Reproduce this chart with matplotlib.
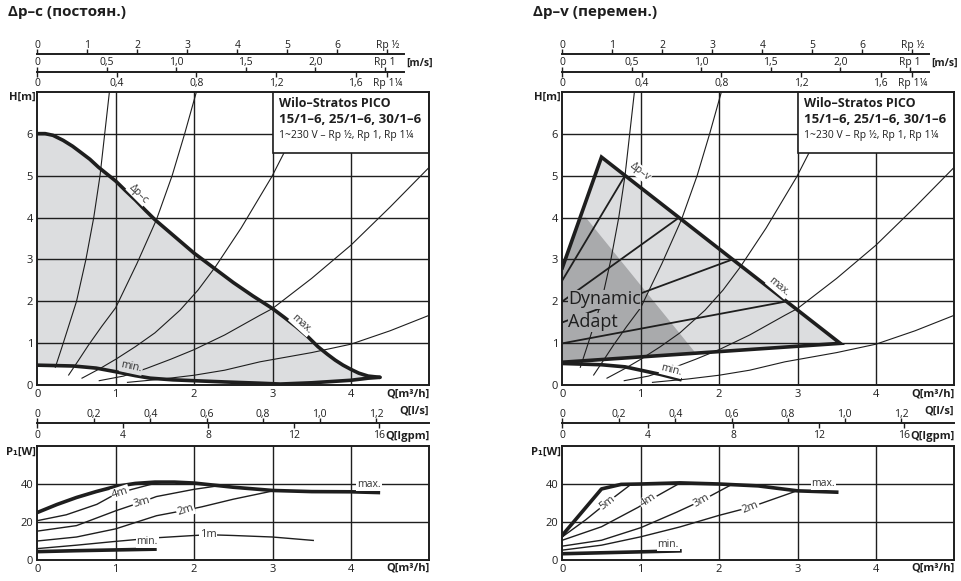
import matplotlib.pyplot as plt
from matplotlib.patches import Rectangle, Polygon

plt.rcParams['font.family'] = ['Open Sans', 'DejaVu Sans']

W, H = 961, 581
FILL = '#dcdddf'
DARK = '#a9aaac'
INK = '#1e1e1e'

# velocity scales [m/s] above the charts
rp12_ticks = [0, 1, 2, 3, 4, 5, 6, 7]
rp12_labels = ['0', '1', '2', '3', '4', '5', '6', 'Rp ½']
rp1_ticks = [0, 0.5, 1.0, 1.5, 2.0, 2.5]
rp1_labels = ['0', '0,5', '1,0', '1,5', '2,0', 'Rp 1']
rp114_ticks = [0, 0.4, 0.8, 1.2, 1.6, 1.76]
rp114_labels = ['0', '0,4', '0,8', '1,2', '1,6', 'Rp 1¼']

# flow scales below the head charts
ls_ticks = [0, 0.2, 0.4, 0.6, 0.8, 1.0, 1.2]
ls_labels = ['0', '0,2', '0,4', '0,6', '0,8', '1,0', '1,2']
igpm_ticks = [0, 4, 8, 12, 16]
igpm_labels = ['0', '4', '8', '12', '16']

# system curves Q[m3/h], H[m] (same in both charts)
sys1_q = [0.23, 0.33, 0.50, 0.62, 0.72, 0.80, 0.86, 0.92]
sys1_h = [0.43, 1.0, 2.0, 3.0, 4.0, 5.0, 6.0, 7.0]
sys2_q = [0.40, 0.52, 0.65, 0.82, 1.0, 1.27, 1.52, 1.72, 1.88, 2.03]
sys2_h = [0.245, 0.58, 0.95, 1.4, 1.85, 2.9, 3.95, 5.0, 6.0, 7.0]
sys3_q = [0.57, 0.8, 1.0, 1.25, 1.5, 1.82, 2.05, 2.27, 2.6, 2.99, 3.3, 3.5]
sys3_h = [0.17, 0.4, 0.62, 0.92, 1.25, 1.79, 2.27, 2.82, 3.75, 4.97, 6.1, 7.0]
sys4_q = [0.79, 1.1, 1.39, 1.7, 2.0, 2.39, 2.84, 3.0, 3.5, 4.0, 4.5, 5.0]
sys4_h = [0.11, 0.22, 0.40, 0.62, 0.85, 1.2, 1.67, 1.83, 2.55, 3.34, 4.25, 5.2]
sys5_q = [1.15, 1.6, 2.0, 2.39, 2.84, 3.5, 4.0, 4.5, 5.0]
sys5_h = [0.07, 0.15, 0.24, 0.36, 0.56, 0.78, 0.98, 1.3, 1.67]

# dp-c head curves
dpc_max_q = [0, 0.1, 0.2, 0.33, 0.45, 0.55, 0.67, 0.78, 0.9, 1.0, 1.12, 1.25, 1.38, 1.5, 1.75,
             2.0, 2.25, 2.5, 2.75, 3.0, 3.15, 3.3, 3.45, 3.58, 3.7, 3.8, 3.9, 4.0, 4.1, 4.22, 4.37]
dpc_max_h = [6.0, 6.0, 5.96, 5.84, 5.70, 5.56, 5.39, 5.2, 5.02, 4.87, 4.65, 4.42, 4.17, 3.95, 3.55,
             3.15, 2.8, 2.45, 2.13, 1.83, 1.62, 1.4, 1.16, 0.92, 0.74, 0.6, 0.48, 0.38, 0.29, 0.22, 0.19]
dpc_min_q = [0, 0.46, 0.75, 1.01, 1.25, 1.44, 1.73, 2.39, 2.84, 3.1, 3.5, 4.0, 4.22, 4.37]
dpc_min_h = [0.48, 0.46, 0.41, 0.32, 0.23, 0.17, 0.13, 0.08, 0.05, 0.03, 0.06, 0.12, 0.17, 0.19]

# dp-v field
dpv_outer_q = [0, 0, 0.5, 3.545]
dpv_outer_h = [0.55, 2.8, 5.44, 1.0]
dyn_q = [0, 0, 0.227, 0.30, 1.70]
dyn_h = [0.55, 2.8, 4.0, 4.0, 0.77]
dpv_set_q = [[0, 0.80], [0, 1.49], [0, 2.17], [0, 2.86]]
dpv_set_h = [[2.5, 5.0], [2.0, 4.0], [1.5, 3.0], [1.0, 2.0]]
dpv_min_q = [0, 0.5, 0.8, 1.0, 1.25, 1.5]
dpv_min_h = [0.52, 0.49, 0.44, 0.36, 0.26, 0.14]

# power P1[W], dp-c
pc_max_q = [0, 0.25, 0.5, 0.75, 1.0, 1.25, 1.5, 1.75, 2.0, 2.5, 3.0, 3.5, 4.0, 4.35]
pc_max_p = [25.0, 29.2, 32.9, 36.0, 38.7, 40.3, 41.0, 41.0, 40.5, 38.3, 36.6, 36.0, 35.9, 35.5]
pc_4m_q = [0, 0.37, 0.76, 0.95, 1.06, 1.2, 1.44, 1.6]
pc_4m_p = [20.7, 23.8, 29.3, 33.6, 35.3, 37.1, 39.7, 41.0]
pc_3m_q = [0, 0.5, 1.0, 1.33, 1.52, 2.0, 2.3]
pc_3m_p = [15.2, 18.1, 25.9, 30.5, 33.4, 37.2, 39.0]
pc_2m_q = [0, 0.5, 1.0, 1.52, 1.89, 2.1, 2.5, 3.0]
pc_2m_p = [10.0, 12.1, 16.4, 23.3, 26.2, 28.0, 32.0, 36.3]
pc_1m_q = [0, 0.5, 1.0, 1.52, 2.0, 2.18, 2.5, 3.0, 3.52]
pc_1m_p = [6.0, 7.8, 9.8, 11.7, 12.9, 13.3, 12.9, 12.1, 10.3]
pc_min_q = [0, 0.5, 1.0, 1.5]
pc_min_p = [4.4, 4.9, 5.3, 5.7]

# power P1[W], dp-v
pv_max_q = [0, 0.5, 0.75, 1.0, 1.5, 2.0, 2.5, 3.0, 3.5]
pv_max_p = [13.0, 37.4, 39.8, 40.0, 40.6, 40.0, 39.0, 36.4, 35.7]
pv_5m_q = [0, 0.3, 0.57, 0.86]
pv_5m_p = [12.2, 21.2, 30.2, 39.3]
pv_4m_q = [0, 0.5, 0.97, 1.1, 1.48]
pv_4m_p = [10.4, 17.5, 27.8, 31.2, 40.0]
pv_3m_q = [0, 0.5, 1.0, 1.46, 1.78, 2.16]
pv_3m_p = [7.3, 10.4, 17.0, 25.2, 31.3, 39.7]
pv_2m_q = [0, 0.5, 1.0, 1.5, 2.0, 2.4, 3.0]
pv_2m_p = [5.2, 7.8, 12.2, 17.4, 23.5, 27.8, 36.5]
pv_min_q = [0, 0.5, 1.0, 1.5]
pv_min_p = [3.3, 3.8, 4.3, 4.8]


fig = plt.figure(figsize=(W / 100, H / 100), dpi=100)


def rect(x0, y0, x1, y1):
    return [x0 / W, 1 - y1 / H, (x1 - x0) / W, (y1 - y0) / H]


def ftext(x, y, s, **kw):
    kw.setdefault('color', INK)
    return fig.text(x / W, 1 - y / H, s, **kw)


def scale(x0, x1, y, lim, ticks, labels, side, spine=True):
    if side == 'top':
        ax = fig.add_axes(rect(x0, y, x1, y + 1))
    else:
        ax = fig.add_axes(rect(x0, y - 1, x1, y))
    ax.set_xlim(0, lim)
    ax.set_yticks([])
    ax.patch.set_visible(False)
    for s in ax.spines.values():
        s.set_visible(False)
    if spine:
        ax.spines[side].set_visible(True)
        ax.spines[side].set_linewidth(1.4)
        ax.spines[side].set_color(INK)
    ax.xaxis.set_ticks_position(side)
    ax.set_xticks(ticks, labels)
    pad = -1.0 if side == 'top' else 1.0
    ax.tick_params(axis='x', direction='out', length=3.5, width=1, pad=pad,
                   labelsize=7.5, colors=INK)
    return ax


def grid(ax, xs, ys):
    for v in xs:
        ax.axvline(v, color=INK, lw=1.0, zorder=2)
    for v in ys:
        ax.axhline(v, color=INK, lw=1.0, zorder=2)


def frame(ax):
    for s in ax.spines.values():
        s.set_linewidth(1.4)
        s.set_color(INK)
        s.set_zorder(6)
    ax.tick_params(length=0, labelsize=8, pad=3, colors=INK)


def label(ax, x, y, s, rot=0, fc='white', size=7.5):
    ax.text(x, y, s, rotation=rot, fontsize=size, color='#333333', ha='center', va='center',
            rotation_mode='anchor', zorder=5,
            bbox=dict(boxstyle='square,pad=0.08', fc=fc, ec='none'))


def panel(x0, title, mode):
    x1 = x0 + 392
    ftext(x0 - 29, 12, title, fontsize=11, fontweight='bold', va='center')

    # velocity scales
    scale(x0, x0 + 366.7, 54.3, 7.334, rp12_ticks, rp12_labels, 'top')
    scale(x0, x0 + 366.7, 71.7, 2.638, rp1_ticks, rp1_labels, 'top')
    scale(x0, x0 + 366.7, 71.7, 1.843, rp114_ticks, rp114_labels, 'bottom', spine=False)
    ftext(x0 + 369, 63, '[m/s]', fontsize=7.5, fontweight='bold', va='center')

    # head chart
    ax = fig.add_axes(rect(x0, 91.7, x1, 385.3))
    ax.set_xlim(0, 5)
    ax.set_ylim(0, 7)
    ax.set_xticks(range(5))
    ax.set_yticks(range(7))
    frame(ax)
    grid(ax, [1, 2, 3, 4], [1, 2, 3, 4, 5, 6])

    if mode == 'c':
        ax.fill(dpc_max_q + dpc_min_q[::-1], dpc_max_h + dpc_min_h[::-1], color=FILL, lw=0, zorder=1)
        ax.plot(dpc_max_q, dpc_max_h, color=INK, lw=2.6, zorder=4, solid_capstyle='round')
        ax.plot(dpc_min_q, dpc_min_h, color=INK, lw=2.6, zorder=4, solid_capstyle='round')
    else:
        ax.add_patch(Polygon(list(zip(dpv_outer_q, dpv_outer_h)), closed=True, fc=FILL, ec='none', zorder=1))
        ax.add_patch(Polygon(list(zip(dyn_q, dyn_h)), closed=True, fc=DARK, ec='none', zorder=1.5))
        ax.plot(dpv_outer_q[1:] + dpv_outer_q[:1], dpv_outer_h[1:] + dpv_outer_h[:1],
                color=INK, lw=2.6, zorder=4, solid_joinstyle='miter')
        for q, h in zip(dpv_set_q, dpv_set_h):
            ax.plot(q, h, color=INK, lw=1.3, zorder=3)
        ax.plot(dpv_min_q, dpv_min_h, color=INK, lw=2.6, zorder=4)

    for q, h in [(sys1_q, sys1_h), (sys2_q, sys2_h), (sys3_q, sys3_h), (sys4_q, sys4_h), (sys5_q, sys5_h)]:
        ax.plot(q, h, color=INK, lw=0.8, zorder=3)

    if mode == 'c':
        label(ax, 1.29, 4.57, 'Δp–c', rot=-45)
        label(ax, 3.37, 1.46, 'max.', rot=-42)
        label(ax, 1.20, 0.43, 'min.', rot=-12, fc=FILL)
    else:
        label(ax, 0.99, 5.09, 'Δp–v', rot=-38)
        label(ax, 2.76, 2.35, 'max.', rot=-40)
        label(ax, 1.39, 0.36, 'min.', rot=-14)
        for y, s in [(2.05, 'Dynamic'), (1.5, 'Adapt')]:
            ax.text(0.075, y, s, fontsize=13, color=INK, ha='left', va='center', zorder=5,
                    bbox=dict(boxstyle='square,pad=0.02', fc=DARK, ec='none'))

    ax.add_patch(Rectangle((3.0, 5.54), 2.0, 1.46, fc='white', ec=INK, lw=1.2, zorder=5))
    ax.text(3.08, 6.73, 'Wilo–Stratos PICO', fontsize=9, fontweight='bold', color=INK, va='center', zorder=6)
    ax.text(3.08, 6.33, '15/1–6, 25/1–6, 30/1–6', fontsize=9.5, fontweight='bold', color=INK, va='center', zorder=6)
    ax.text(3.08, 5.95, '1~230 V – Rp ½, Rp 1, Rp 1¼', fontsize=7.5, color=INK, va='center', zorder=6)

    ftext(x0 - 15, 97, 'H[m]', fontsize=8, fontweight='bold', ha='center', va='center')
    ftext(x1, 394, 'Q[m³/h]', fontsize=8, fontweight='bold', ha='right', va='center')

    # flow scales
    scale(x0, x1, 423.3, 5 / 3.6, ls_ticks, ls_labels, 'top')
    scale(x0, x1, 423.3, 5 / 0.272765, igpm_ticks, igpm_labels, 'bottom', spine=False)
    ftext(x1, 410.7, 'Q[l/s]', fontsize=8, fontweight='bold', ha='right', va='center')
    ftext(x1, 436.7, 'Q[Igpm]', fontsize=8, fontweight='bold', ha='right', va='center')

    # power chart
    ap = fig.add_axes(rect(x0, 446, x1, 560))
    ap.set_xlim(0, 5)
    ap.set_ylim(0, 60)
    ap.set_xticks(range(5))
    ap.set_yticks([0, 20, 40])
    frame(ap)
    grid(ap, [1, 2, 3, 4], [20, 40])

    if mode == 'c':
        ap.plot(pc_max_q, pc_max_p, color=INK, lw=2.6, zorder=4)
        for q, p in [(pc_4m_q, pc_4m_p), (pc_3m_q, pc_3m_p), (pc_2m_q, pc_2m_p), (pc_1m_q, pc_1m_p)]:
            ap.plot(q, p, color=INK, lw=1.0, zorder=3)
        ap.plot(pc_min_q, pc_min_p, color=INK, lw=2.6, zorder=4)
        label(ap, 4.23, 39.7, 'max.')
        label(ap, 1.06, 35.3, '4m', rot=18, size=8)
        label(ap, 1.33, 30.5, '3m', rot=16, size=8)
        label(ap, 1.89, 26.2, '2m', rot=18, size=8)
        label(ap, 2.18, 13.3, '1m', size=8)
        label(ap, 1.40, 9.5, 'min.')
    else:
        ap.plot(pv_max_q, pv_max_p, color=INK, lw=2.6, zorder=4)
        for q, p in [(pv_5m_q, pv_5m_p), (pv_4m_q, pv_4m_p), (pv_3m_q, pv_3m_p), (pv_2m_q, pv_2m_p)]:
            ap.plot(q, p, color=INK, lw=1.0, zorder=3)
        ap.plot(pv_min_q, pv_min_p, color=INK, lw=2.6, zorder=4)
        label(ap, 3.33, 40.3, 'max.')
        label(ap, 0.57, 30.2, '5m', rot=38, size=8)
        label(ap, 1.10, 31.2, '4m', rot=34, size=8)
        label(ap, 1.78, 31.3, '3m', rot=30, size=8)
        label(ap, 2.40, 27.8, '2m', rot=22, size=8)
        label(ap, 1.35, 8.3, 'min.')

    ftext(x0 - 16, 452, 'P₁[W]', fontsize=8, fontweight='bold', ha='center', va='center')
    ftext(x1, 568, 'Q[m³/h]', fontsize=8, fontweight='bold', ha='right', va='center')


panel(37.3, 'Δp–c (постоян.)', 'c')
panel(562.3, 'Δp–v (перемен.)', 'v')

fig.savefig('out.png', dpi=100)
